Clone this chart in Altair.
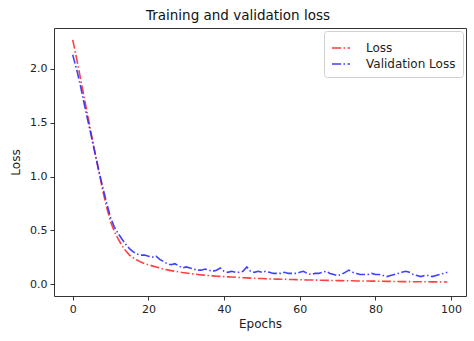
import altair as alt
import pandas as pd

loss = [2.27, 2.10, 1.92, 1.74, 1.56, 1.38, 1.20, 1.03, 0.86, 0.71,
        0.58, 0.49, 0.42, 0.36, 0.31, 0.27, 0.245, 0.225, 0.205, 0.19,
        0.18, 0.17, 0.16, 0.15, 0.14, 0.133, 0.126, 0.12, 0.114, 0.108,
        0.103, 0.098, 0.094, 0.09, 0.086, 0.083, 0.08, 0.077, 0.074, 0.072,
        0.07, 0.068, 0.066, 0.064, 0.062, 0.06, 0.058, 0.056, 0.055, 0.053,
        0.052, 0.05, 0.049, 0.048, 0.047, 0.046, 0.045, 0.044, 0.043, 0.042,
        0.041, 0.04, 0.039, 0.038, 0.038, 0.037, 0.036, 0.035, 0.035, 0.034,
        0.033, 0.033, 0.032, 0.031, 0.031, 0.03, 0.03, 0.029, 0.029, 0.028,
        0.028, 0.027, 0.027, 0.026, 0.026, 0.025, 0.025, 0.024, 0.024, 0.024,
        0.023, 0.023, 0.022, 0.022, 0.022, 0.021, 0.021, 0.021, 0.02, 0.02]

val_loss = [2.13, 2.00, 1.85, 1.68, 1.52, 1.36, 1.20, 1.04, 0.89, 0.75,
            0.62, 0.53, 0.47, 0.42, 0.37, 0.33, 0.30, 0.28, 0.27, 0.27,
            0.26, 0.25, 0.26, 0.23, 0.21, 0.19, 0.18, 0.19, 0.17, 0.15,
            0.16, 0.15, 0.14, 0.13, 0.13, 0.14, 0.13, 0.12, 0.13, 0.15,
            0.12, 0.11, 0.12, 0.11, 0.11, 0.12, 0.16, 0.12, 0.11, 0.12,
            0.11, 0.12, 0.11, 0.10, 0.10, 0.10, 0.11, 0.10, 0.10, 0.10,
            0.11, 0.12, 0.10, 0.09, 0.10, 0.10, 0.11, 0.12, 0.10, 0.09,
            0.08, 0.09, 0.11, 0.13, 0.11, 0.10, 0.09, 0.09, 0.09, 0.10,
            0.09, 0.09, 0.08, 0.07, 0.08, 0.09, 0.10, 0.11, 0.12, 0.11,
            0.09, 0.08, 0.07, 0.08, 0.08, 0.07, 0.08, 0.09, 0.10, 0.11]

series_names = ["Loss", "Validation Loss"]
series_colors = ["#ff2b2b", "#2b2bff"]

epochs = list(range(len(loss)))
df = pd.DataFrame({
    "epoch": epochs * 2,
    "value": loss + val_loss,
    "series": [series_names[0]] * len(loss) + [series_names[1]] * len(val_loss),
})

dash = [9, 2.5, 1.5, 2.5]

chart = alt.Chart(df).mark_line(strokeWidth=1.6, opacity=0.9).encode(
    x=alt.X("epoch:Q", title="Epochs",
            scale=alt.Scale(domain=[-4.95, 103.95], nice=False, zero=False),
            axis=alt.Axis(values=[0, 20, 40, 60, 80, 100], format="d")),
    y=alt.Y("value:Q", title="Loss",
            scale=alt.Scale(domain=[-0.11, 2.38], nice=False, zero=False),
            axis=alt.Axis(values=[0.0, 0.5, 1.0, 1.5, 2.0], format=".1f")),
    color=alt.Color("series:N", title=None,
                    scale=alt.Scale(domain=series_names, range=series_colors),
                    legend=alt.Legend(orient="top-right", offset=3)),
    strokeDash=alt.StrokeDash("series:N", title=None,
                              scale=alt.Scale(domain=series_names, range=[dash, dash]),
                              legend=alt.Legend(orient="top-right", offset=3)),
).properties(
    width=412, height=268,
    title=alt.TitleParams("Training and validation loss", fontSize=13.5,
                          fontWeight="normal", font="DejaVu Sans", color="#111",
                          offset=6, anchor="middle", dx=-22),
    autosize=alt.AutoSizeParams(type="none"),
    padding={"left": 54, "top": 28, "right": 8, "bottom": 45},
).configure_view(
    stroke="#333", strokeWidth=1
).configure_axis(
    grid=False, domain=False, tickColor="#333", tickSize=4, tickWidth=1,
    labelFont="DejaVu Sans", labelFontSize=11, labelColor="#222",
    titleFont="DejaVu Sans", titleFontSize=12, titleFontWeight="normal",
    titleColor="#222", labelPadding=3,
).configure_axisX(titlePadding=4).configure_axisY(titlePadding=7).configure_legend(
    labelFont="DejaVu Sans", labelFontSize=12, labelColor="#222",
    strokeColor="#d0d0d0", cornerRadius=3, fillColor="white", padding=7,
    symbolType="stroke", symbolSize=324, symbolStrokeWidth=1.6,
    rowPadding=0, labelOffset=15,
)

chart.save("out.html", embed_options={"renderer": "svg", "actions": False})
